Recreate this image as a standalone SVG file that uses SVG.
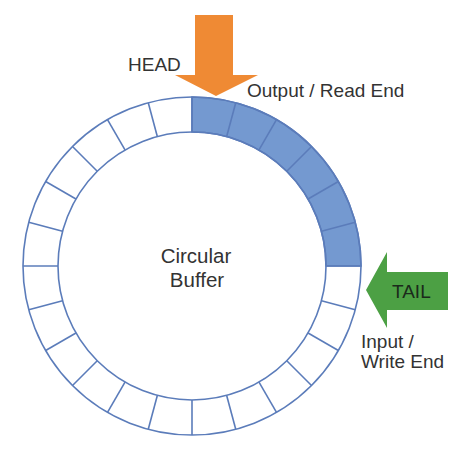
<svg xmlns="http://www.w3.org/2000/svg" xmlns:xlink="http://www.w3.org/1999/xlink" width="474" height="455" viewBox="0 0 474 455">
<style>
.ring{fill:none;stroke:#5b7cba;stroke-width:1.6}
.fill{fill:#7499d0;stroke:#5b7cba;stroke-width:1.6}
.lbl{font-family:"Liberation Sans",Arial,sans-serif;font-size:19px;fill:#333}
.ctr{font-family:"Liberation Sans",Arial,sans-serif;font-size:20.5px;fill:#333;text-anchor:middle}
</style>
<defs>
<line id="sp" x1="326" y1="266" x2="361" y2="266" class="ring"/>
</defs>
<rect width="474" height="455" fill="#fff"/>
<g id="buffer">
<path class="fill" d="M361 266 A169 169 0 0 0 192 97 L192 132 A134 134 0 0 1 326 266 Z"/>
<circle class="ring" cx="192" cy="266" r="169"/>
<circle class="ring" cx="192" cy="266" r="134"/>
<use xlink:href="#sp"/>
<use xlink:href="#sp" transform="rotate(15 192 266)"/>
<use xlink:href="#sp" transform="rotate(30 192 266)"/>
<use xlink:href="#sp" transform="rotate(45 192 266)"/>
<use xlink:href="#sp" transform="rotate(60 192 266)"/>
<use xlink:href="#sp" transform="rotate(75 192 266)"/>
<use xlink:href="#sp" transform="rotate(90 192 266)"/>
<use xlink:href="#sp" transform="rotate(105 192 266)"/>
<use xlink:href="#sp" transform="rotate(120 192 266)"/>
<use xlink:href="#sp" transform="rotate(135 192 266)"/>
<use xlink:href="#sp" transform="rotate(150 192 266)"/>
<use xlink:href="#sp" transform="rotate(165 192 266)"/>
<use xlink:href="#sp" transform="rotate(180 192 266)"/>
<use xlink:href="#sp" transform="rotate(195 192 266)"/>
<use xlink:href="#sp" transform="rotate(210 192 266)"/>
<use xlink:href="#sp" transform="rotate(225 192 266)"/>
<use xlink:href="#sp" transform="rotate(240 192 266)"/>
<use xlink:href="#sp" transform="rotate(255 192 266)"/>
<use xlink:href="#sp" transform="rotate(270 192 266)"/>
<use xlink:href="#sp" transform="rotate(285 192 266)"/>
<use xlink:href="#sp" transform="rotate(300 192 266)"/>
<use xlink:href="#sp" transform="rotate(315 192 266)"/>
<use xlink:href="#sp" transform="rotate(330 192 266)"/>
<use xlink:href="#sp" transform="rotate(345 192 266)"/>
<text class="ctr" x="196" y="263">Circular</text>
<text class="ctr" x="197" y="287">Buffer</text>
</g>
<g id="head">
<polygon fill="#ef8a34" points="195,15 233,15 233,75 258,75 216,96 175,75 195,75"/>
<text class="lbl" x="128" y="71">HEAD</text>
<text class="lbl" x="247" y="97">Output / Read End</text>
</g>
<g id="tail">
<polygon fill="#4ca044" points="448,272 387,272 387,252 366,290 387,328 387,310 448,310"/>
<text class="lbl" x="392" y="298" fill="#1b2a1b" style="fill:#1b2a1b">TAIL</text>
<text class="lbl" x="361" y="348">Input /</text>
<text class="lbl" x="361" y="368">Write End</text>
</g>
<g id="connectors"></g>
</svg>
